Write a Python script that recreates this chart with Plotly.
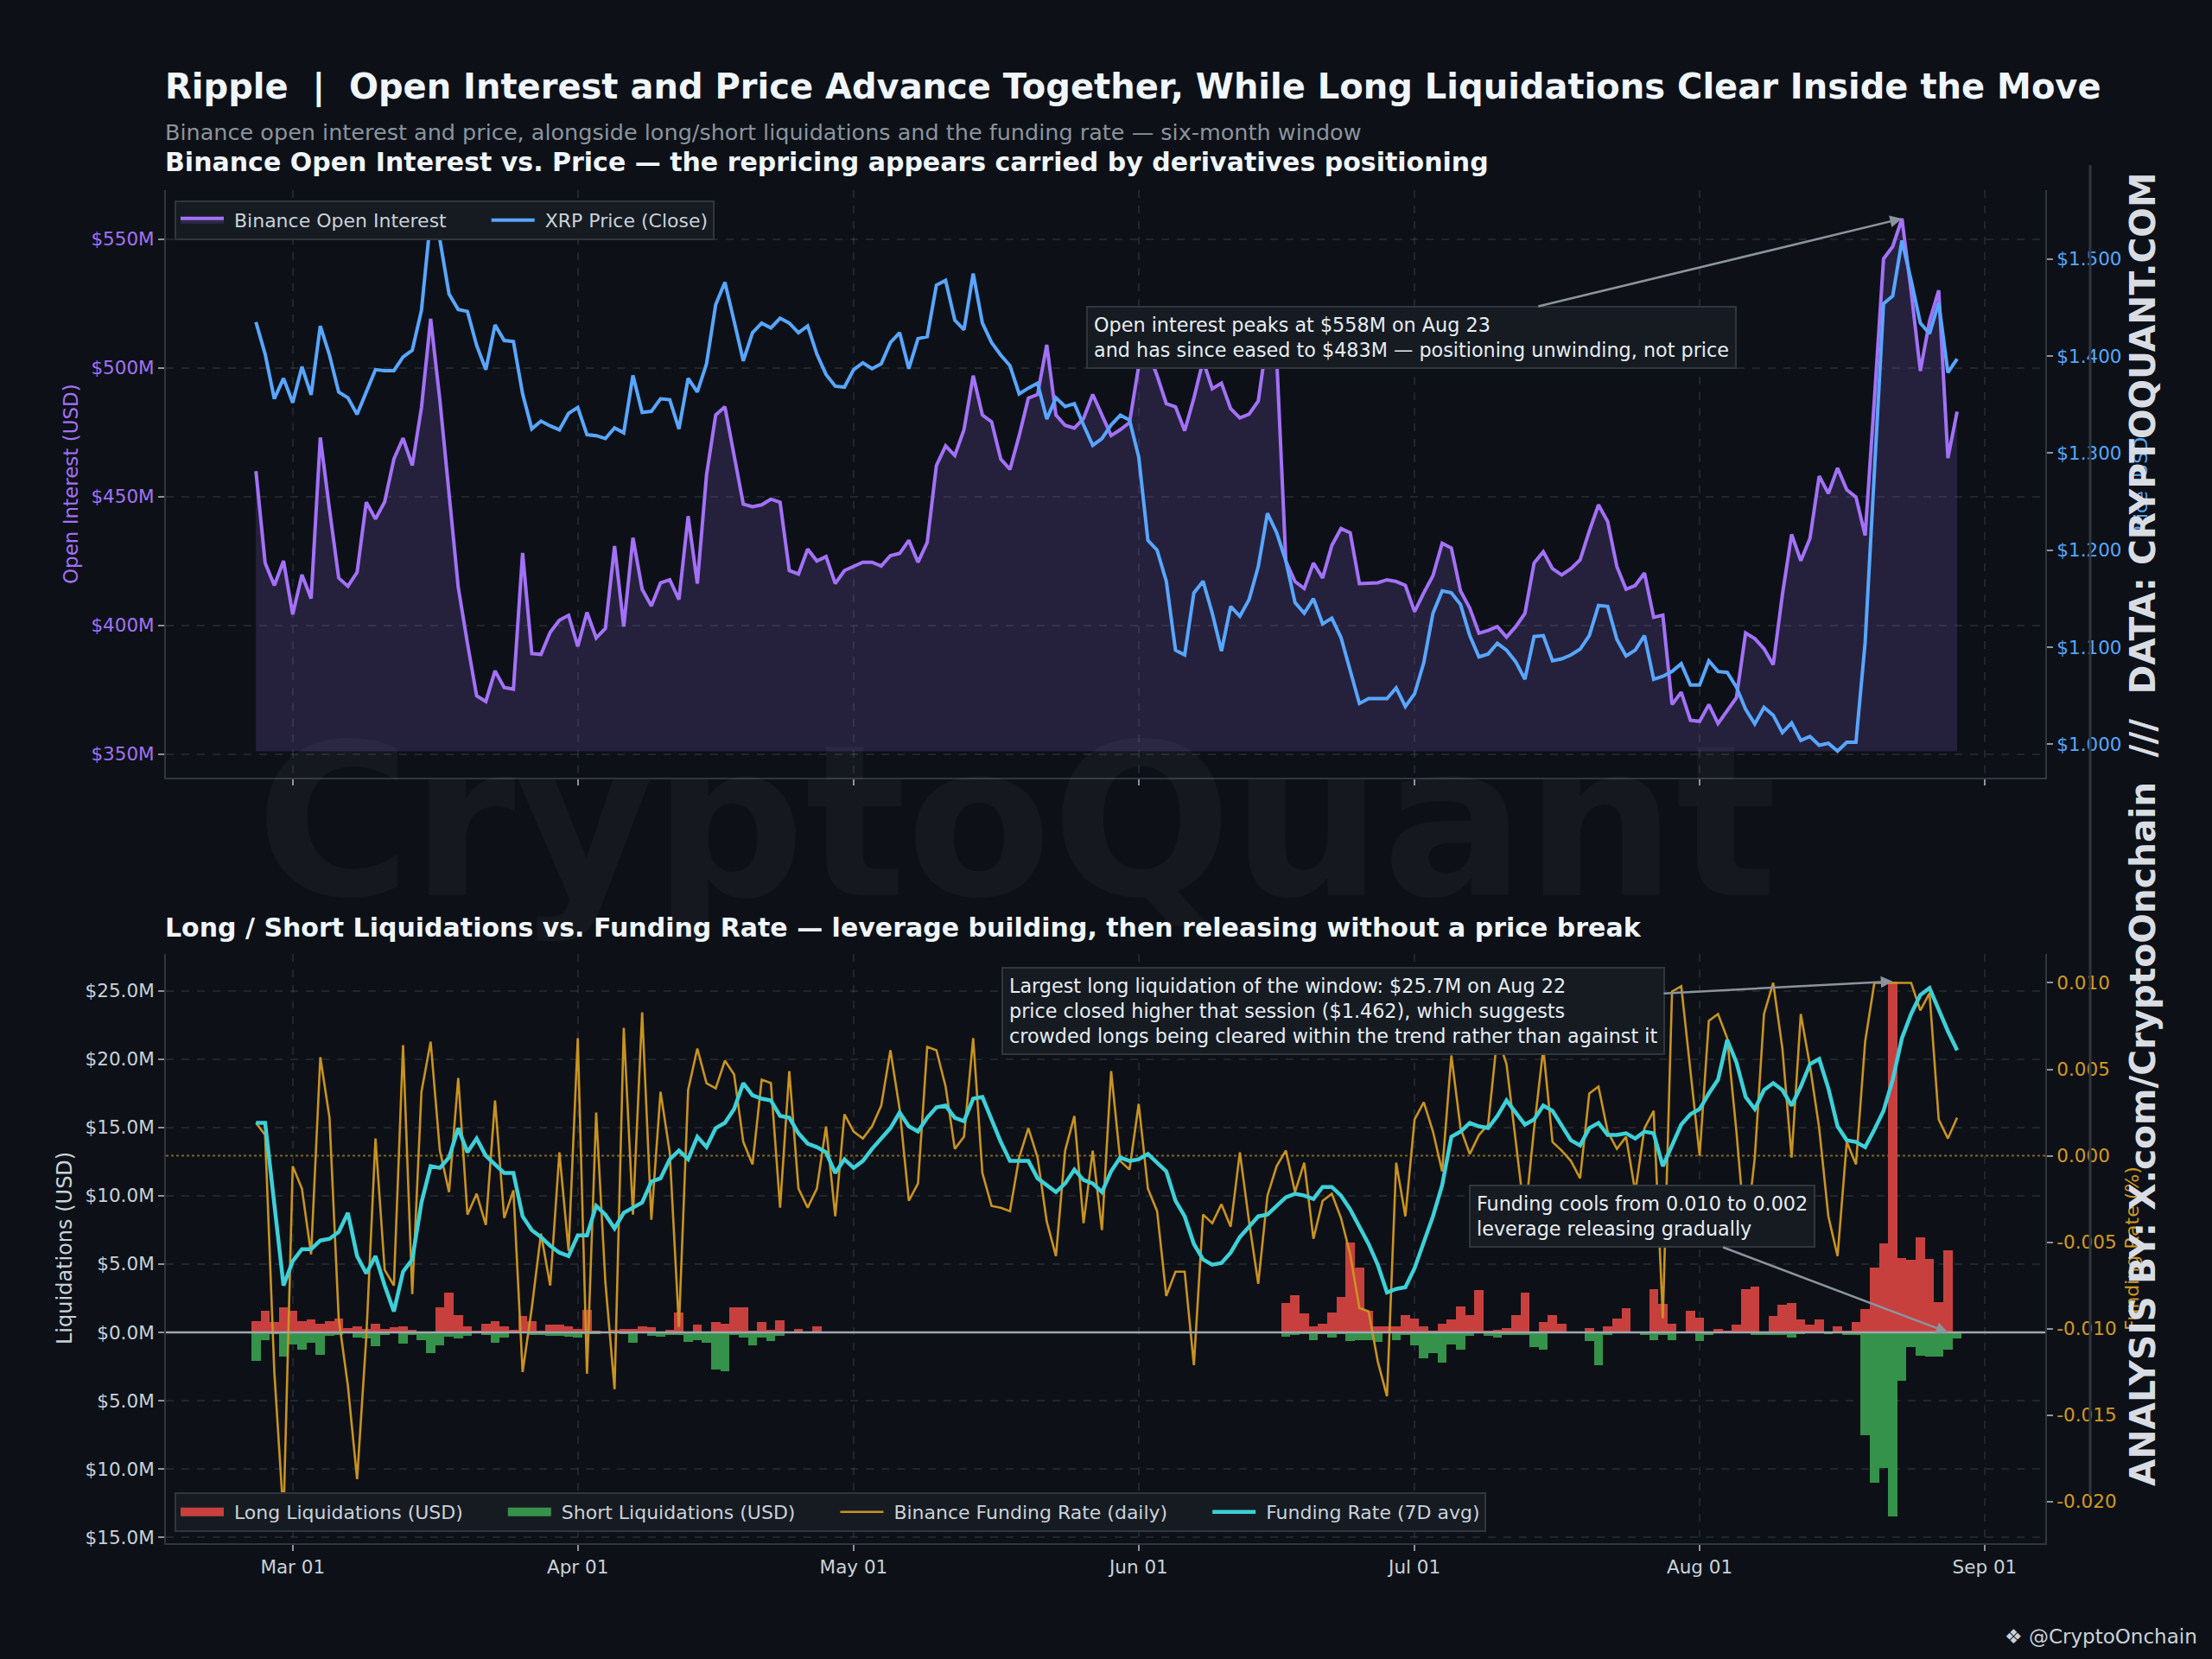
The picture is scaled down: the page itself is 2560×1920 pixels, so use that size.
import pandas as pd
import plotly.graph_objects as go

START_DATE = "2025-02-25"

# Binance open interest, $M (daily)
OPEN_INTEREST_M = [
    459.9, 424.2, 415.5, 425.0, 404.2, 419.6, 410.4, 473.0, 445.0, 418.4,
    415.2, 420.6, 447.8, 441.3, 448.0, 464.6, 472.7, 462.1, 484.6, 519.1,
    487.6, 452.6, 414.8, 393.0, 372.6, 370.4, 382.3, 375.8, 375.2, 428.1,
    389.0, 388.7, 397.3, 402.0, 403.9, 391.8, 405.0, 395.1, 398.8, 430.8,
    399.5, 434.0, 414.0, 407.5, 416.5, 417.7, 410.0, 442.4, 416.2, 458.4,
    481.7, 484.9, 465.7, 447.1, 446.1, 446.8, 449.0, 447.8, 421.3, 419.9,
    429.6, 425.0, 426.7, 416.2, 421.3, 422.8, 424.5, 424.5, 423.0, 427.1,
    427.9, 433.0, 424.5, 432.2, 462.1, 469.7, 466.0, 476.0, 497.0, 481.7,
    479.1, 464.6, 460.6, 473.7, 488.3, 489.7, 509.0, 481.7, 477.7, 476.6,
    480.3, 489.7, 481.7, 473.7, 476.0, 478.8, 500.7, 506.5, 497.0, 486.1,
    484.9, 475.6, 488.3, 502.9, 491.9, 494.1, 484.2, 480.6, 482.0, 487.1,
    512.3, 504.3, 425.0, 417.0, 414.3, 424.2, 418.4, 431.0, 437.6, 435.9,
    416.2, 416.2, 416.5, 417.7, 417.0, 415.5, 405.3, 412.6, 419.3, 431.9,
    430.0, 413.3, 406.7, 396.9, 398.0, 399.5, 395.4, 399.5, 404.6, 424.2,
    428.6, 422.0, 419.6, 422.0, 425.4, 436.6, 446.8, 440.3, 422.8, 414.0,
    415.5, 420.3, 403.1, 403.9, 369.2, 374.0, 363.1, 362.7, 369.2, 361.8,
    366.8, 371.9, 397.0, 394.8, 390.9, 384.7, 411.9, 435.3, 425.1, 433.8,
    458.0, 451.2, 461.1, 452.7, 449.8, 434.9, 487.5, 542.4, 547.2, 558.0,
    529.8, 498.8, 518.2, 530.1, 465.0, 483.0,
]

# XRP close, USD
XRP_PRICE = [
    1.435, 1.402, 1.356, 1.377, 1.352, 1.389, 1.360, 1.431, 1.401, 1.363,
    1.357, 1.340, 1.363, 1.386, 1.385, 1.385, 1.399, 1.406, 1.447, 1.542,
    1.520, 1.464, 1.448, 1.446, 1.411, 1.386, 1.432, 1.416, 1.415, 1.361,
    1.325, 1.333, 1.328, 1.324, 1.341, 1.347, 1.319, 1.318, 1.315, 1.326,
    1.321, 1.380, 1.342, 1.343, 1.356, 1.355, 1.325, 1.377, 1.363, 1.392,
    1.453, 1.476, 1.436, 1.395, 1.424, 1.434, 1.429, 1.439, 1.434, 1.424,
    1.431, 1.402, 1.381, 1.369, 1.368, 1.386, 1.393, 1.387, 1.392, 1.414,
    1.424, 1.387, 1.418, 1.420, 1.473, 1.478, 1.437, 1.427, 1.485, 1.434,
    1.414, 1.401, 1.390, 1.361, 1.367, 1.372, 1.335, 1.357, 1.348, 1.351,
    1.329, 1.308, 1.315, 1.329, 1.339, 1.334, 1.296, 1.210, 1.200, 1.168,
    1.097, 1.092, 1.156, 1.168, 1.135, 1.096, 1.142, 1.132, 1.149, 1.183,
    1.238, 1.218, 1.189, 1.146, 1.135, 1.150, 1.124, 1.130, 1.110, 1.075,
    1.042, 1.047, 1.047, 1.047, 1.058, 1.039, 1.052, 1.084, 1.135, 1.158,
    1.156, 1.144, 1.112, 1.090, 1.093, 1.104, 1.097, 1.085, 1.067, 1.111,
    1.112, 1.086, 1.088, 1.092, 1.098, 1.112, 1.143, 1.142, 1.108, 1.091,
    1.097, 1.112, 1.067, 1.070, 1.075, 1.083, 1.061, 1.061, 1.086, 1.075,
    1.074, 1.059, 1.036, 1.021, 1.038, 1.030, 1.012, 1.022, 1.004, 1.008,
    0.999, 1.001, 0.993, 1.002, 1.002, 1.105, 1.280, 1.454, 1.462, 1.519,
    1.478, 1.434, 1.423, 1.455, 1.383, 1.397,
]

# long liquidations, $M (no data for late Apr - mid Jun)
LONG_LIQ_M = [
    0.82, 1.57, 0.74, 1.84, 1.59, 0.80, 0.96, 0.63, 0.82, 1.02,
    0.33, 0.41, 0.25, 0.63, 0.27, 0.36, 0.47, 0.19, 0.05, 0.05,
    1.84, 2.94, 1.24, 0.47, 0.14, 0.66, 0.82, 0.41, 0.19, 1.18,
    0.82, 0.14, 0.55, 0.55, 0.47, 0.25, 1.65, 0.08, 0.05, 0.19,
    0.27, 0.27, 0.47, 0.36, 0.05, 0.19, 1.46, 0.05, 0.55, 0.05,
    0.74, 0.63, 1.84, 1.84, 0.14, 0.74, 0.19, 0.88, 0.00, 0.27,
    0.00, 0.47,
] + [None] * 50 + [
    2.12, 2.69, 1.37, 0.47, 0.60, 1.43, 2.61, 6.59,
    4.75, 1.59, 0.47, 0.47, 0.47, 1.24, 1.02, 0.41, 0.14, 0.60,
    0.96, 1.92, 1.29, 3.10, 0.14, 0.19, 0.33, 1.29, 2.88, 0.05,
    0.74, 1.29, 0.60, 0.05, 0.00, 0.33, 0.05, 0.47, 1.02, 1.79,
    0.00, 0.05, 3.16, 2.06, 0.60, 0.05, 1.57, 1.10, 0.00, 0.27,
    0.14, 0.55, 3.16, 3.35, 0.00, 1.18, 2.01, 2.12, 0.96, 0.55,
    0.96, 0.00, 0.41, 0.14, 0.74, 1.73, 4.73, 6.54, 25.70, 5.44,
    5.30, 6.95, 5.36, 2.20, 5.99, 0.05,
]

# short liquidations, $M (plotted below zero)
SHORT_LIQ_M = [
    -2.06, -0.60, -0.14, -1.79, -0.88, -1.29, -0.74, -1.65, -0.27, -0.19,
    -0.08, -0.36, -0.47, -1.04, -0.19, -0.05, -0.82, -0.22, -0.55, -1.51,
    -0.96, -0.33, -0.44, -0.25, -0.08, -0.22, -0.74, -0.41, -0.08, -0.08,
    -0.19, -0.22, -0.27, -0.27, -0.33, -0.36, -0.14, -0.14, -0.08, -0.08,
    -0.14, -0.77, -0.08, -0.27, -0.30, -0.19, -0.22, -0.69, -0.60, -0.74,
    -2.75, -2.88, -0.22, -0.41, -0.96, -0.41, -0.63, -0.27, -0.05, -0.05,
    -0.08, -0.05,
] + [None] * 50 + [
    -0.33, -0.22, -0.14, -0.58, -0.14, -0.36, -0.14, -0.63,
    -0.58, -0.58, -0.69, -0.05, -0.58, -0.22, -0.96, -1.87, -1.51, -2.20,
    -0.91, -1.29, -0.27, -0.08, -0.27, -0.36, -0.19, -0.22, -0.22, -1.10,
    -1.24, -0.08, -0.08, -0.08, -0.08, -0.63, -2.42, -0.22, -0.08, -0.08,
    -0.08, -0.19, -0.55, -0.19, -0.55, -0.08, -0.08, -0.63, -0.19, -0.08,
    -0.08, -0.08, -0.08, -0.19, -0.22, -0.22, -0.19, -0.36, -0.14, -0.08,
    -0.08, -0.14, -0.08, -0.19, -0.19, -7.55, -10.99, -9.95, -13.46, -3.57,
    -1.10, -1.70, -1.79, -1.79, -1.24, -0.47,
]

FUNDING_DAILY = [
    0.0019, 0.0012, -0.0125, -0.0209, -0.0006, -0.0019, -0.0057, 0.0057, 0.0022, -0.0094,
    -0.0133, -0.0187, -0.0105, 0.0010, -0.0066, -0.0075, 0.0064, -0.0080, 0.0037, 0.0066,
    0.0003, -0.0021, 0.0045, -0.0034, -0.0022, -0.0040, 0.0032, -0.0036, -0.0020, -0.0125,
    -0.0088, -0.0045, -0.0075, 0.0002, -0.0055, 0.0068, -0.0126, 0.0025, -0.0073, -0.0135,
    0.0074, -0.0034, 0.0083, -0.0037, 0.0037, 0.0002, -0.0099, 0.0038, 0.0062, 0.0042,
    0.0039, 0.0055, 0.0047, 0.0008, -0.0005, 0.0044, 0.0042, -0.0030, 0.0049, -0.0019,
    -0.0030, -0.0019, 0.0017, -0.0035, 0.0024, 0.0014, 0.0010, 0.0017, 0.0029, 0.0061,
    0.0027, -0.0026, -0.0016, 0.0063, 0.0061, 0.0040, 0.0004, 0.0011, 0.0068, -0.0010,
    -0.0029, -0.0030, -0.0032, -0.0001, 0.0016, -0.0001, -0.0038, -0.0058, 0.0003, 0.0023,
    -0.0039, 0.0003, -0.0043, 0.0049, -0.0003, -0.0008, 0.0030, -0.0019, -0.0032, -0.0081,
    -0.0067, -0.0067, -0.0121, -0.0034, -0.0039, -0.0028, -0.0041, 0.0002, -0.0038, -0.0074,
    -0.0023, -0.0006, 0.0003, -0.0021, -0.0004, -0.0048, -0.0026, -0.0022, -0.0036, -0.0057,
    -0.0088, -0.0090, -0.0119, -0.0139, -0.0004, -0.0035, 0.0021, 0.0031, 0.0014, -0.0009,
    0.0058, 0.0016, 0.0001, 0.0012, 0.0018, 0.0069, 0.0053, 0.0010, -0.0036, 0.0016,
    0.0062, 0.0008, 0.0003, -0.0003, -0.0013, 0.0036, 0.0040, 0.0014, 0.0004, 0.0011,
    -0.0021, 0.0016, 0.0026, -0.0094, 0.0095, 0.0098, 0.0049, 0.0000, 0.0078, 0.0082,
    0.0068, 0.0014, -0.0048, -0.0001, 0.0082, 0.0100, 0.0062, -0.0001, 0.0082, 0.0052,
    0.0016, -0.0035, -0.0058, 0.0008, -0.0005, 0.0066, 0.0100, 0.0100, 0.0100, 0.0100,
    0.0100, 0.0084, 0.0094, 0.0021, 0.0010, 0.0022,
]

FUNDING_7D = [
    0.0019, 0.0019, -0.0028, -0.0075, -0.0061, -0.0054, -0.0054, -0.0049, -0.0048, -0.0044,
    -0.0033, -0.0058, -0.0068, -0.0058, -0.0075, -0.0090, -0.0067, -0.0060, -0.0027, -0.0006,
    -0.0007, -0.0001, 0.0016, 0.0002, 0.0010, 0.0000, -0.0005, -0.0010, -0.0010, -0.0035,
    -0.0043, -0.0047, -0.0052, -0.0056, -0.0058, -0.0046, -0.0046, -0.0029, -0.0034, -0.0042,
    -0.0033, -0.0030, -0.0027, -0.0015, -0.0013, -0.0002, 0.0003, -0.0002, 0.0011, 0.0005,
    0.0016, 0.0019, 0.0027, 0.0042, 0.0035, 0.0033, 0.0032, 0.0023, 0.0022, 0.0013,
    0.0007, 0.0005, 0.0002, -0.0010, -0.0002, -0.0007, -0.0003, 0.0004, 0.0010, 0.0016,
    0.0025, 0.0017, 0.0014, 0.0022, 0.0028, 0.0029, 0.0022, 0.0020, 0.0033, 0.0034,
    0.0021, 0.0008, -0.0003, -0.0003, -0.0003, -0.0013, -0.0017, -0.0021, -0.0016, -0.0008,
    -0.0014, -0.0016, -0.0021, -0.0009, -0.0001, -0.0003, -0.0002, 0.0001, -0.0004, -0.0009,
    -0.0026, -0.0035, -0.0051, -0.0060, -0.0063, -0.0062, -0.0056, -0.0047, -0.0041, -0.0035,
    -0.0034, -0.0029, -0.0024, -0.0022, -0.0023, -0.0025, -0.0018, -0.0018, -0.0023, -0.0031,
    -0.0041, -0.0051, -0.0063, -0.0079, -0.0077, -0.0076, -0.0065, -0.0050, -0.0035, -0.0017,
    0.0011, 0.0014, 0.0019, 0.0017, 0.0016, 0.0023, 0.0032, 0.0025, 0.0018, 0.0021,
    0.0029, 0.0026, 0.0017, 0.0009, 0.0006, 0.0016, 0.0019, 0.0012, 0.0012, 0.0013,
    0.0010, 0.0014, 0.0013, -0.0006, 0.0006, 0.0018, 0.0024, 0.0027, 0.0036, 0.0044,
    0.0067, 0.0054, 0.0034, 0.0027, 0.0038, 0.0042, 0.0038, 0.0029, 0.0040, 0.0053,
    0.0056, 0.0039, 0.0017, 0.0009, 0.0008, 0.0005, 0.0015, 0.0026, 0.0044, 0.0068,
    0.0082, 0.0093, 0.0097, 0.0084, 0.0072, 0.0061,
]

X_TICKS = ["2025-03-01", "2025-04-01", "2025-05-01", "2025-06-01",
           "2025-07-01", "2025-08-01", "2025-09-01"]
OI_TICKS = [350, 400, 450, 500, 550]
PRICE_TICKS = [1.0, 1.1, 1.2, 1.3, 1.4, 1.5]
LIQ_TICKS = [25, 20, 15, 10, 5, 0, -5, -10, -15]
FUNDING_TICKS = [0.010, 0.005, 0.0, -0.005, -0.010, -0.015, -0.020]

OI_FILL_BASE = 351

# colours (dark theme)
BG = "#0d1117"
PURPLE = "#a371f7"
BLUE = "#58a6ff"
RED = "#c8403e"
GREEN = "#35924a"
GOLD = "#c99320"
GOLD_TXT = "#d29922"
CYAN = "#3dd0d8"
TXT = "#c9d1d9"
SPINE = "#30363d"
GRID = "rgba(139,148,158,0.16)"
FONT = "DejaVu Sans"
TICK_SIZE = 21.5

W, H = 2560, 1920
PLOT_L, PLOT_R, PLOT_T, PLOT_B = 192, 2367, 220, 1786

NB = "\u00a0"


def px(x):
    return (x - PLOT_L) / (PLOT_R - PLOT_L)


def py(y):
    return (PLOT_B - y) / (PLOT_B - PLOT_T)


def entry(name, last=False):
    # matplotlib-like padding around legend labels
    return NB + name + ("" if last else NB * 6)


dates = pd.date_range(START_DATE, periods=len(OPEN_INTEREST_M), freq="D")
day_ms = 86400000

fig = go.Figure()

# top panel: open interest (filled) and price
fig.add_trace(go.Scatter(x=dates, y=[OI_FILL_BASE] * len(dates), mode="lines",
                         line=dict(width=0), showlegend=False, hoverinfo="skip",
                         xaxis="x", yaxis="y"))
fig.add_trace(go.Scatter(x=dates, y=OPEN_INTEREST_M, mode="lines",
                         name=entry("Binance Open Interest"),
                         line=dict(color=PURPLE, width=4), fill="tonexty",
                         fillcolor="rgba(163,113,247,0.17)", xaxis="x", yaxis="y"))
fig.add_trace(go.Scatter(x=dates, y=XRP_PRICE, mode="lines", name=entry("XRP Price (Close)", True),
                         line=dict(color=BLUE, width=4), xaxis="x", yaxis="y2"))

# bottom panel: liquidations and funding
fig.add_trace(go.Bar(x=dates, y=LONG_LIQ_M, marker_color=RED, showlegend=False,
                     marker_line_width=0, width=day_ms, xaxis="x2", yaxis="y3"))
fig.add_trace(go.Bar(x=dates, y=SHORT_LIQ_M, marker_color=GREEN, showlegend=False,
                     marker_line_width=0, width=day_ms, xaxis="x2", yaxis="y3"))
# legend swatches for the bars (wide patches like the original)
fig.add_trace(go.Scatter(x=[None], y=[None], mode="lines", name=entry("Long Liquidations (USD)"),
                         line=dict(color=RED, width=16), xaxis="x2", yaxis="y3", legend="legend2"))
fig.add_trace(go.Scatter(x=[None], y=[None], mode="lines", name=entry("Short Liquidations (USD)"),
                         line=dict(color=GREEN, width=16), xaxis="x2", yaxis="y3", legend="legend2"))
fig.add_trace(go.Scatter(x=dates, y=FUNDING_DAILY, mode="lines",
                         name=entry("Binance Funding Rate (daily)"),
                         line=dict(color=GOLD, width=2.6), xaxis="x2", yaxis="y4", legend="legend2"))
fig.add_trace(go.Scatter(x=dates, y=FUNDING_7D, mode="lines",
                         name=entry("Funding Rate (7D avg)", True),
                         line=dict(color=CYAN, width=4.5), xaxis="x2", yaxis="y4", legend="legend2"))

x_range = ["2025-02-15 05:00", "2025-09-07 14:00"]
axis_common = dict(showline=True, linecolor=SPINE, linewidth=2, ticks="outside",
                   ticklen=7, tickwidth=2, tickcolor="#8b949e", zeroline=False)

legend_common = dict(orientation="h", bgcolor="#161b22", bordercolor=SPINE, borderwidth=2,
                     font=dict(family=FONT, size=22, color=TXT), xanchor="left",
                     itemwidth=50, traceorder="normal")

fig.update_layout(
    width=W, height=H,
    margin=dict(l=PLOT_L, r=W - PLOT_R, t=PLOT_T, b=H - PLOT_B),
    paper_bgcolor=BG, plot_bgcolor=BG,
    font=dict(family=FONT, color=TXT, size=19),
    barmode="overlay", bargap=0,
    hovermode=False,
    xaxis=dict(domain=[0, 1], anchor="y", range=x_range, type="date", tickvals=X_TICKS,
               showticklabels=False, showgrid=True, gridcolor=GRID, griddash="dash", gridwidth=1.5,
               **axis_common),
    xaxis2=dict(domain=[0, 1], anchor="y3", range=x_range, type="date", tickvals=X_TICKS,
                tickformat="%b %d", tickfont=dict(size=TICK_SIZE, color=TXT), matches="x",
                showgrid=True, gridcolor=GRID, griddash="dash", gridwidth=1.5, **axis_common),
    yaxis=dict(domain=[(PLOT_B - 900) / (PLOT_B - PLOT_T), 1], anchor="x", range=[340.8, 569.1],
               tickvals=OI_TICKS, ticktext=[f"${v}M" for v in OI_TICKS],
               tickfont=dict(size=TICK_SIZE, color=PURPLE), showgrid=True, gridcolor=GRID,
               griddash="dash", gridwidth=1.5, **axis_common),
    yaxis2=dict(overlaying="y", side="right", anchor="x", range=[0.9656, 1.571],
                tickvals=PRICE_TICKS, ticktext=[f"${v:.3f}" for v in PRICE_TICKS],
                tickfont=dict(size=TICK_SIZE, color=BLUE), showgrid=False, **axis_common),
    yaxis3=dict(domain=[0, (PLOT_B - 1104) / (PLOT_B - PLOT_T)], anchor="x2", range=[-15.44, 27.71],
                tickvals=LIQ_TICKS, ticktext=[f"${abs(v):.1f}M" for v in LIQ_TICKS],
                tickfont=dict(size=TICK_SIZE, color=TXT), showgrid=True, gridcolor=GRID,
                griddash="dash", gridwidth=1.5, **axis_common),
    yaxis4=dict(overlaying="y3", side="right", anchor="x2", range=[-0.0224, 0.01167],
                tickvals=FUNDING_TICKS, ticktext=[f"{v:.3f}" for v in FUNDING_TICKS],
                tickfont=dict(size=TICK_SIZE, color=GOLD_TXT), showgrid=False, **axis_common),
    legend=dict(x=px(202), y=py(232), yanchor="top", **legend_common),
    legend2=dict(x=px(202), y=py(1773), yanchor="bottom", **legend_common),
)

# reference lines
fig.add_shape(type="line", xref="x2 domain", yref="y4", x0=0, x1=1, y0=0, y1=0,
              line=dict(color="rgba(210,153,34,0.6)", width=2, dash="dot"), layer="below")
fig.add_shape(type="line", xref="x2 domain", yref="y3", x0=0, x1=1, y0=0, y1=0,
              line=dict(color="#a0a7b0", width=2.5))
fig.add_shape(type="line", xref="paper", yref="paper", x0=px(2419), x1=px(2419),
              y0=py(1731), y1=py(191), line=dict(color=SPINE, width=3))


def text(x, y, s, size, color, bold=False, anchor="left", angle=0):
    fig.add_annotation(x=px(x), y=py(y), xref="paper", yref="paper", text=s, showarrow=False,
                       xanchor=anchor, yanchor="middle", textangle=angle,
                       font=dict(family=FONT, size=size, color=color,
                                 weight="bold" if bold else "normal"))


# watermark
text(1176, 952, "CryptoQuant", 245, "rgba(255,255,255,0.035)", bold=True, anchor="center")

text(189, 101, "Ripple" + NB * 2 + "|" + NB * 2 + "Open Interest and Price Advance Together, "
     "While Long Liquidations Clear Inside the Move", 40, "#f0f6fc", bold=True)
text(189, 153, "Binance open interest and price, alongside long/short liquidations and the "
     "funding rate — six-month window", 25.5, "#8b949e")
text(189, 188, "Binance Open Interest vs. Price — the repricing appears carried by derivatives "
     "positioning", 30, "#f0f6fc", bold=True)
text(189, 1073, "Long / Short Liquidations vs. Funding Rate — leverage building, then releasing "
     "without a price break", 30, "#f0f6fc", bold=True)

# axis titles
text(82, 560, "Open Interest (USD)", 23, PURPLE, anchor="center", angle=-90)
text(75, 1445, "Liquidations (USD)", 24, TXT, anchor="center", angle=-90)
text(2477, 560, "Price (USD)", 22, BLUE, anchor="center", angle=-90)
text(2467, 1445, "Funding Rate (%)", 22, GOLD_TXT, anchor="center", angle=-90)

# callouts
box = dict(bgcolor="#161b22", bordercolor=SPINE, borderwidth=2, borderpad=7,
           align="left", font=dict(family=FONT, size=22.3, color="#e6edf3"),
           showarrow=True, arrowhead=2, arrowsize=1.1, arrowwidth=2.5, arrowcolor="#8b949e",
           xanchor="center", yanchor="middle")
fig.add_annotation(x=dates[179], y=OPEN_INTEREST_M[179], xref="x", yref="y", ax=-568, ay=137,
                   text="Open interest peaks at $558M on Aug 23<br>"
                        "and has since eased to $483M — positioning unwinding, not price", **box)
fig.add_annotation(x=dates[178], y=LONG_LIQ_M[178], xref="x2", yref="y3", ax=-648, ay=34,
                   text="Largest long liquidation of the window: $25.7M on Aug 22<br>"
                        "price closed higher that session ($1.462), which suggests<br>"
                        "crowded longs being cleared within the trend rather than against it",
                   **box)
fig.add_annotation(x=dates[184], y=0, xref="x2", yref="y3", ax=-354, ay=-134,
                   text="Funding cools from 0.010 to 0.002<br>leverage releasing gradually", **box)

# side credit and signature
text(2480, 960, "ANALYSIS BY: X.com/CryptoOnchain" + NB * 2 + "///" + NB * 2 + "DATA: CRYPTOQUANT.COM",
     40.7, "#d9dde3", bold=True, anchor="center", angle=-90)
text(2545, 1894, "❖ @CryptoOnchain", 23, TXT, anchor="right")

fig.write_html("out.html", config={"displayModeBar": False},
               post_script="document.body.style.margin='0';")
